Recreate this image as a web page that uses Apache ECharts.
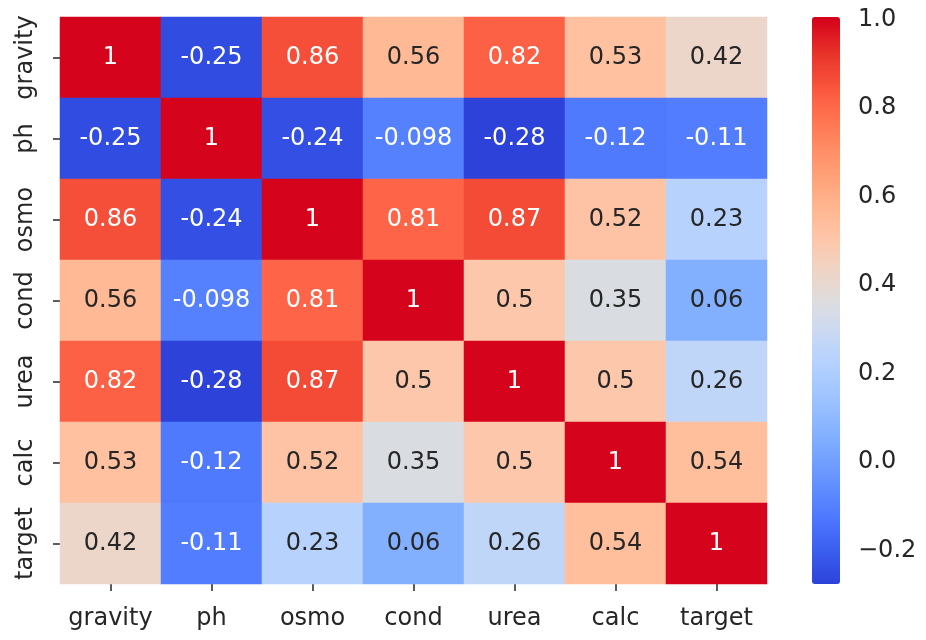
<!DOCTYPE html>
<html>
<head>
<meta charset="utf-8">
<script src="https://cdn.jsdelivr.net/npm/echarts@6/dist/echarts.min.js"></script>
<style>
html,body{margin:0;padding:0;background:#fff;}
#chart{width:926px;height:640px;}
</style>
</head>
<body>
<div id="chart"></div>
<script>
const categories = ['gravity', 'ph', 'osmo', 'cond', 'urea', 'calc', 'target'];
const rowGravity = [1, -0.25, 0.86, 0.56, 0.82, 0.53, 0.42];
const rowPh      = [-0.25, 1, -0.24, -0.098, -0.28, -0.12, -0.11];
const rowOsmo    = [0.86, -0.24, 1, 0.81, 0.87, 0.52, 0.23];
const rowCond    = [0.56, -0.098, 0.81, 1, 0.5, 0.35, 0.06];
const rowUrea    = [0.82, -0.28, 0.87, 0.5, 1, 0.5, 0.26];
const rowCalc    = [0.53, -0.12, 0.52, 0.35, 0.5, 1, 0.54];
const rowTarget  = [0.42, -0.11, 0.23, 0.06, 0.26, 0.54, 1];
const colorbarTicks = [-0.2, 0.0, 0.2, 0.4, 0.6, 0.8, 1.0];
const vMin = -0.276, vMax = 1.006;

const rows = [rowGravity, rowPh, rowOsmo, rowCond, rowUrea, rowCalc, rowTarget];

// coolwarm (Moreland) stops, saturation boosted to match the picture
const coolwarmBase = [
 [59,76,192],[68,90,204],[77,104,215],[87,117,225],[98,130,234],[108,142,241],[119,154,247],[130,165,251],
 [141,176,254],[152,185,255],[163,194,255],[174,201,253],[184,208,249],[194,213,244],[204,217,238],[213,219,230],
 [221,221,221],[229,216,209],[236,211,197],[241,204,184],[245,196,172],[247,187,159],[247,177,147],[247,166,134],
 [244,154,123],[241,141,111],[236,127,99],[229,112,89],[222,96,77],[213,80,67],[203,62,56],[192,40,47],[180,4,38]
];
function boost(c){
  const m=(c[0]+c[1]+c[2])/3, k=1.3;
  return '#'+c.map(v=>{let x=Math.round(m+k*(v-m));x=Math.max(0,Math.min(255,x));return x.toString(16).padStart(2,'0');}).join('');
}
const palette = coolwarmBase.map(boost);

const FONT = 'DejaVu Sans';
const TXT = '#262626';

const data = [];
rows.forEach((row, i) => {
  row.forEach((v, j) => {
    const light = (v < 0 || v >= 0.8);
    data.push({value:[j, i, v], label:{color: light ? '#ffffff' : TXT}});
  });
});

const chart = echarts.init(document.getElementById('chart'), null, {renderer:'canvas'});
chart.setOption({
  animation:false,
  backgroundColor:'#fff',
  grid:[
    {left:60, top:17, width:707, height:567},
    {left:812, top:17, width:28, height:567}
  ],
  xAxis:[
    {type:'category', data:categories, gridIndex:0, position:'bottom',
     axisLine:{show:false},
     axisTick:{show:true, alignWithLabel:true, interval:0, length:7, lineStyle:{color:TXT, width:1.5}},
     axisLabel:{fontFamily:FONT, fontSize:24, color:TXT, margin:23, interval:0},
     splitLine:{show:false}},
    {type:'value', gridIndex:1, show:false, min:0, max:1}
  ],
  yAxis:[
    {type:'category', data:categories, gridIndex:0, inverse:true,
     axisLine:{show:false},
     axisTick:{show:true, alignWithLabel:true, interval:0, length:7, lineStyle:{color:TXT, width:1.5}},
     axisLabel:{fontFamily:FONT, fontSize:24, color:TXT, rotate:90, margin:22, interval:0},
     splitLine:{show:false}},
    {type:'value', gridIndex:1, position:'right', min:vMin, max:vMax,
     axisLine:{show:false},
     splitLine:{show:false},
     axisTick:{show:true, length:8, customValues:colorbarTicks, lineStyle:{color:TXT, width:1.5}},
     axisLabel:{show:true, customValues:colorbarTicks, fontFamily:FONT, fontSize:24, color:TXT, margin:18,
       formatter:v=>{const s=Math.abs(v).toFixed(1);return (v< -1e-9?'\u2212':'')+s;}}}
  ],
  visualMap:{
    type:'continuous', min:vMin, max:vMax, calculable:false, realtime:false,
    orient:'vertical', left:812, top:17, padding:0,
    itemWidth:28, itemHeight:567, showLabel:false, text:null,
    inRange:{color:palette},
    seriesIndex:0, hoverLink:false
  },
  series:[{
    type:'heatmap', xAxisIndex:0, yAxisIndex:0, data:data,
    label:{show:true, fontFamily:FONT, fontSize:24,
      formatter:p=>String(p.value[2])},
    itemStyle:{borderWidth:0},
    emphasis:{disabled:true}
  }]
});
</script>
</body>
</html>
